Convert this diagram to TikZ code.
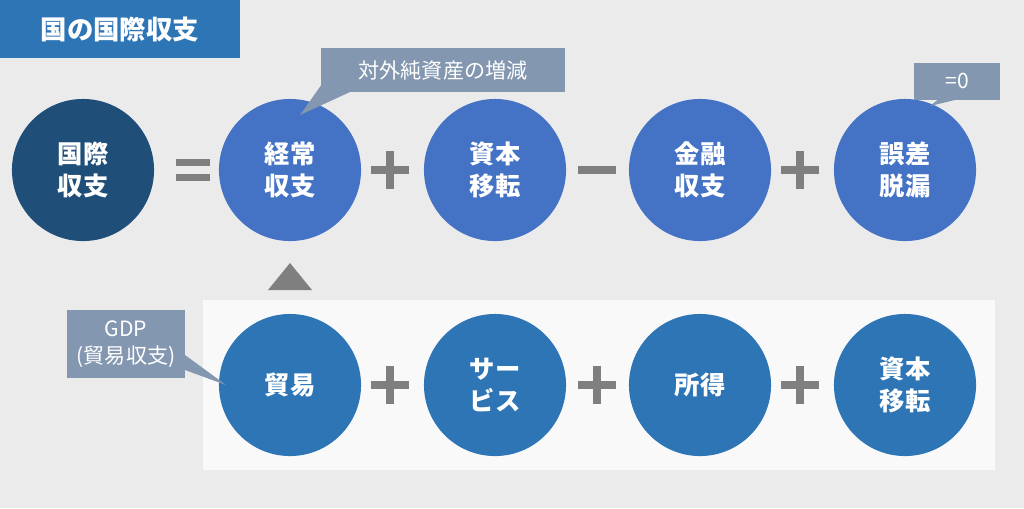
\documentclass[tikz,border=0pt]{standalone}
\usepackage{fontspec}
\setmainfont{Noto Sans CJK JP}
\usetikzlibrary{positioning}
\definecolor{bgc}{HTML}{EBEBEB}
\definecolor{navy}{HTML}{1F4E79}
\definecolor{blueA}{HTML}{4472C4}
\definecolor{blueB}{HTML}{2E75B6}
\definecolor{callc}{HTML}{8497B0}
\definecolor{opc}{HTML}{7F7F7F}
\tikzset{
  ball/.style={circle, minimum size=1.42cm, inner sep=0pt, text=white, align=center, font=\bfseries\fontsize{7.2}{9}\selectfont},
  note/.style={fill=callc, text=white, inner sep=0pt, align=center, font=\fontsize{6}{7.5}\selectfont},
  plusop/.pic={\fill[opc] (-19,-4) rectangle (19,4); \fill[opc] (-4,-19) rectangle (4,19);},
  minusop/.pic={\fill[opc] (-19,-4) rectangle (19,4);},
  eqop/.pic={\fill[opc] (-17,-11) rectangle (17,-4); \fill[opc] (-17,4) rectangle (17,11);}
}
\begin{document}
\begin{tikzpicture}[x=0.01cm, y=-0.01cm]
    \fill[bgc] (0,0) rectangle (1024,508);
    \useasboundingbox (0,0) rectangle (1024,508);

    % title
    \node[fill=blueB, text=white, minimum width=2.4cm, minimum height=0.58cm, inner sep=0pt, font=\bfseries\fontsize{7.5}{9}\selectfont] (title) at (120,29) {国の国際収支};

    % panel
    \fill[white!60!bgc!70!white] (203,300) rectangle (995,470);

    % top row
    \node[ball, fill=navy] (bop) at (83,170) {国際\\収支};
    \node[ball, fill=blueA] (ca) at (290,170) {経常\\収支};
    \node[ball, fill=blueA] (kt) at (495,170) {資本\\移転};
    \node[ball, fill=blueA] (fa) at (700,170) {金融\\収支};
    \node[ball, fill=blueA] (err) at (905,170) {誤差\\脱漏};
    \pic at (193,170) {eqop};
    \pic at (390,170) {plusop};
    \pic at (597,170) {minusop};
    \pic at (800,170) {plusop};

    % bottom row
    \node[ball, fill=blueB] (trade) at (290,385) {貿易};
    \node[ball, fill=blueB] (serv) at (495,385) {サー\\ビス};
    \node[ball, fill=blueB] (inc) at (700,385) {所得};
    \node[ball, fill=blueB] (tr) at (905,385) {資本\\移転};
    \pic at (390,385) {plusop};
    \pic at (597,385) {plusop};
    \pic at (800,385) {plusop};

    % arrow up
    \fill[opc] (268,290) -- (290,263) -- (312,290) -- cycle;

    % callouts
    \node[note, minimum width=2.43cm, minimum height=0.44cm] (nfa) at (443,70) {対外純資産の増減};
    \fill[callc] (322,84) -- (300,115) -- (350,92) -- cycle;
    \node[note, minimum width=0.85cm, minimum height=0.37cm] (zero) at (957,81) {=0};
    \fill[callc] (940,98) -- (930,106) -- (955,100) -- cycle;
    \node[note, minimum width=1.17cm, minimum height=0.68cm] (gdp) at (126,344) {GDP\\(貿易収支)};
    \fill[callc] (185,355) -- (226,385) -- (185,370) -- cycle;
\end{tikzpicture}
\end{document}
